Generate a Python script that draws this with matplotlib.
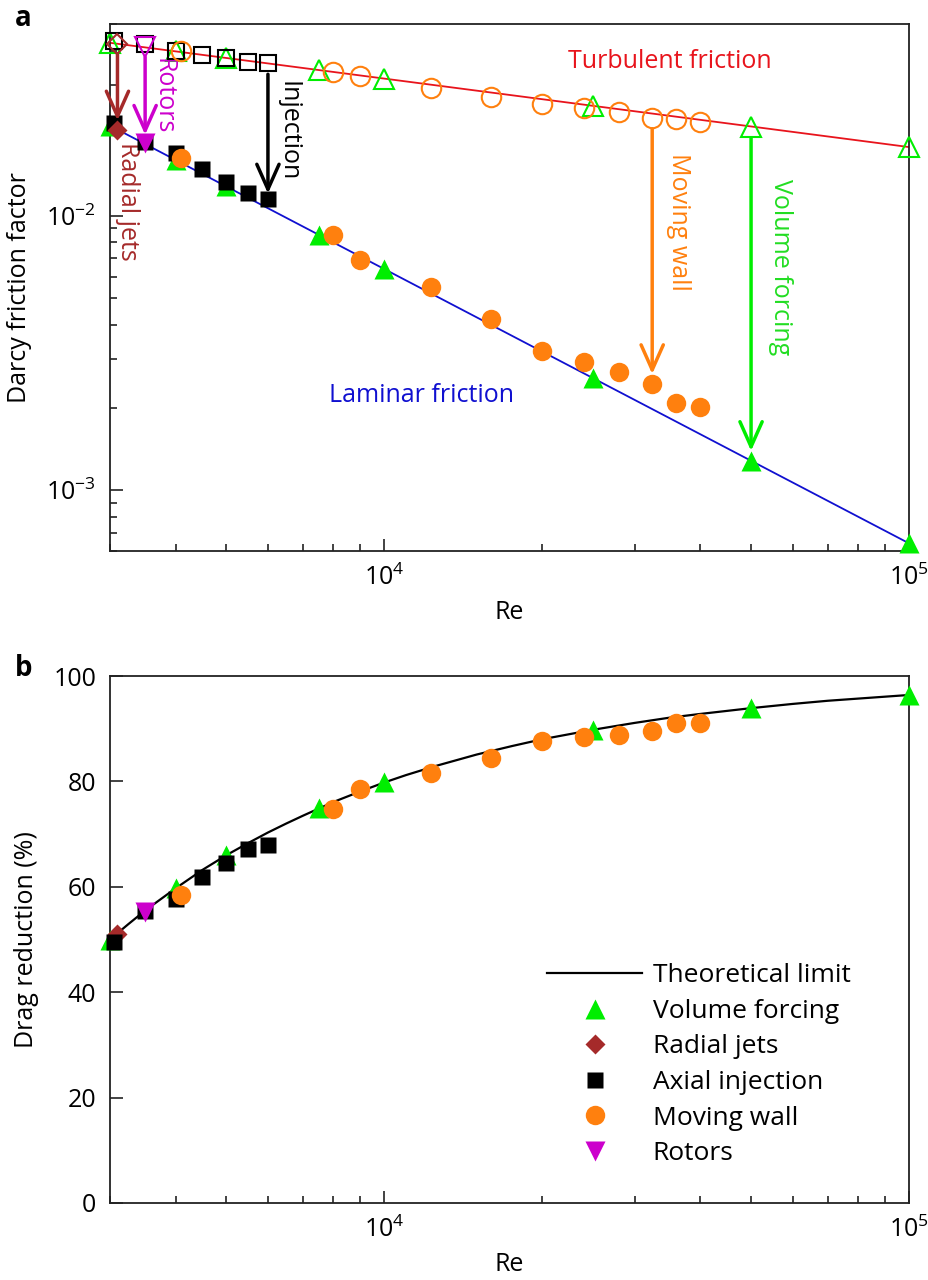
import matplotlib
matplotlib.use('Agg')
import matplotlib.pyplot as plt
from matplotlib.ticker import LogLocator, NullFormatter, FixedLocator, FixedFormatter

plt.rcParams['font.family'] = ['Open Sans', 'DejaVu Sans']
plt.rcParams['mathtext.default'] = 'regular'

# ---- data ----
# reference lines (end points on the log-log plot)
line_re = [3000, 100000]
turb_line = [0.0427, 0.0178]
lam_line = [0.0213, 0.00064]

# theoretical limit of drag reduction
lim_re = [3000, 3250, 3500, 4000, 4500, 5000, 5500, 6000, 6500, 7000, 8000, 9000,
          10000, 11000, 12500, 15000, 17500, 20000, 25000, 30000, 35000, 40000,
          50000, 60000, 70000, 85000, 100000]
lim_dr = [50.0, 52.9, 55.5, 59.7, 63.2, 66.0, 68.3, 70.3, 72.0, 73.5, 76.1, 78.1,
          79.8, 81.2, 82.9, 85.1, 86.7, 88.0, 89.8, 91.1, 92.1, 92.8,
          93.9, 94.7, 95.3, 95.9, 96.4]

# volume forcing
vf_re = [3000, 4000, 5000, 7500, 10000, 25000, 50000, 100000]
vf_turb = [0.0427, 0.0397, 0.0376, 0.0339, 0.0316, 0.0251, 0.0211, 0.0178]
vf_lam = [0.0213, 0.0160, 0.0128, 0.00853, 0.0064, 0.00256, 0.00128, 0.00064]
vf_dr = [50.0, 59.7, 66.0, 74.9, 79.8, 89.8, 93.9, 96.4]

# radial jets
rj_re = [3100]
rj_turb = [0.0422]
rj_lam = [0.0205]
rj_dr = [51.0]

# axial injection
ai_re = [3050, 3500, 4000, 4500, 5000, 5500, 6000]
ai_turb = [0.0432, 0.0421, 0.0397, 0.0384, 0.0377, 0.0364, 0.0360]
ai_lam = [0.0218, 0.0185, 0.0170, 0.0148, 0.0133, 0.0121, 0.0115]
ai_dr = [49.5, 55.4, 57.7, 61.9, 64.6, 67.2, 68.0]

# moving wall
mw_re = [4100, 8000, 9000, 12250, 16000, 20000, 24000, 28000, 32400, 36000, 40000]
mw_turb = [0.0397, 0.0333, 0.0322, 0.0293, 0.0272, 0.0256, 0.0248, 0.0238, 0.0228, 0.0226, 0.0220]
mw_lam = [0.01628, 0.00852, 0.00691, 0.00551, 0.00421, 0.00322, 0.00293, 0.00270, 0.00244, 0.00208, 0.00201]
mw_dr = [58.5, 74.7, 78.5, 81.5, 84.4, 87.6, 88.4, 88.8, 89.5, 91.0, 91.0]

# rotors
ro_re = [3500]
ro_turb = [0.0411]
ro_lam = [0.0184]
ro_dr = [55.3]

c_green = '#00ee00'
c_brown = '#a52a2a'
c_black = '#000000'
c_orange = '#ff800e'
c_mag = '#cc00cc'

fig = plt.figure(figsize=(9.29, 12.8), dpi=100)
W, H = 929.0, 1280.0
ax1 = fig.add_axes([110 / W, 1 - 551 / H, 799 / W, 527 / H])
ax2 = fig.add_axes([110 / W, 1 - 1203 / H, 799 / W, 527 / H])

# ---------------- panel a ----------------
ax1.plot(line_re, turb_line, color='#e8141c', lw=1.3, zorder=2)
ax1.plot(line_re, lam_line, color='#1010d0', lw=1.3, zorder=2)

series = [
    (vf_re, vf_turb, vf_lam, '^', c_green, 15, 3),
    (ai_re, ai_turb, ai_lam, 's', c_black, 11.5, 4),
    (rj_re, rj_turb, rj_lam, 'D', c_brown, 10, 5),
    (ro_re, ro_turb, ro_lam, 'v', c_mag, 14, 5),
    (mw_re, mw_turb, mw_lam, 'o', c_orange, 14, 6),
]
for re, ft, fl, mk, col, ms, z in series:
    ax1.plot(re, ft, mk, ms=ms, mfc='none', mec=col, mew=1.5, ls='none',
             clip_on=False, zorder=z)
    ax1.plot(re, fl, mk, ms=ms, mfc=col, mec='none', ls='none',
             clip_on=False, zorder=z)

# arrows from turbulent to laminar state
arrows = [
    (rj_re, rj_turb, rj_lam, 0, c_brown, 7, 7),
    (ro_re, ro_turb, ro_lam, 0, c_mag, 7, 6),
    (ai_re, ai_turb, ai_lam, 6, c_black, 8, 4),
    (mw_re, mw_turb, mw_lam, 8, c_orange, 8, 7),
    (vf_re, vf_turb, vf_lam, 6, c_green, 8, 7),
]
for re, ft, fl, i, col, sa, sb in arrows:
    ax1.annotate('', xy=(re[i], fl[i]), xytext=(re[i], ft[i]),
                 arrowprops=dict(arrowstyle='->,head_length=0.9,head_width=0.4',
                                 lw=2.5, color=col, shrinkA=sa, shrinkB=sb,
                                 mutation_scale=20),
                 zorder=7)

fs = 18
ax1.text(3240, 0.0113, 'Radial jets', color=c_brown, fontsize=fs, rotation=270,
         ha='center', va='center')
ax1.text(3780, 0.0272, 'Rotors', color=c_mag, fontsize=fs, rotation=270,
         ha='center', va='center')
ax1.text(6560, 0.0203, 'Injection', color=c_black, fontsize=fs, rotation=270,
         ha='center', va='center')
ax1.text(36300, 0.0095, 'Moving wall', color=c_orange, fontsize=fs, rotation=270,
         ha='center', va='center')
ax1.text(56800, 0.0065, 'Volume forcing', color='#22dd22', fontsize=fs, rotation=270,
         ha='center', va='center')
ax1.text(35000, 0.0365, 'Turbulent friction', color='#e8141c', fontsize=fs,
         ha='center', va='center')
ax1.text(11760, 0.00222, 'Laminar friction', color='#1010d0', fontsize=fs,
         ha='center', va='center')

ax1.set_xscale('log')
ax1.set_yscale('log')
ax1.set_xlim(3000, 100000)
ax1.set_ylim(6e-4, 0.05)
ax1.set_xlabel('Re', fontsize=fs, labelpad=6)
ax1.set_ylabel('Darcy friction factor', fontsize=fs, labelpad=10)
ax1.yaxis.set_major_locator(FixedLocator([1e-3, 1e-2]))
ax1.yaxis.set_major_formatter(FixedFormatter(['$10^{-3}$', '$10^{-2}$']))
ax1.yaxis.set_minor_locator(LogLocator(base=10, subs=range(2, 10)))
ax1.yaxis.set_minor_formatter(NullFormatter())

# ---------------- panel b ----------------
ax2.plot(lim_re, lim_dr, color='black', lw=1.6, zorder=2, label='Theoretical limit')
ax2.plot(vf_re, vf_dr, '^', ms=15, color=c_green, mec='none', ls='none',
         clip_on=False, zorder=3, label='Volume forcing')
ax2.plot(rj_re, rj_dr, 'D', ms=10, color=c_brown, mec='none', ls='none',
         clip_on=False, zorder=4, label='Radial jets')
ax2.plot(ai_re, ai_dr, 's', ms=11.5, color=c_black, mec='none', ls='none',
         clip_on=False, zorder=5, label='Axial injection')
ax2.plot(mw_re, mw_dr, 'o', ms=14, color=c_orange, mec='none', ls='none',
         clip_on=False, zorder=6, label='Moving wall')
ax2.plot(ro_re, ro_dr, 'v', ms=14, color=c_mag, mec='none', ls='none',
         clip_on=False, zorder=6, label='Rotors')

ax2.set_xscale('log')
ax2.set_xlim(3000, 100000)
ax2.set_ylim(0, 100)
ax2.set_yticks([0, 20, 40, 60, 80, 100])
ax2.set_xlabel('Re', fontsize=fs, labelpad=6)
ax2.set_ylabel('Drag reduction (%)', fontsize=fs, labelpad=10)
leg = ax2.legend(loc='lower left', bbox_to_anchor=(0.547, 0.07), frameon=False,
                 fontsize=19, handlelength=3.6, borderpad=0, labelspacing=0.4,
                 handletextpad=0.4, borderaxespad=0)

for ax in (ax1, ax2):
    ax.xaxis.set_major_locator(FixedLocator([1e4, 1e5]))
    ax.xaxis.set_major_formatter(FixedFormatter(['$10^{4}$', '$10^{5}$']))
    ax.xaxis.set_minor_locator(LogLocator(base=10, subs=range(2, 10)))
    ax.xaxis.set_minor_formatter(NullFormatter())
    ax.tick_params(which='both', direction='in', labelsize=fs, width=1.2,
                   color='#222222', top=False, right=False)
    ax.tick_params(which='major', length=9, pad=10)
    ax.tick_params(which='minor', length=5)
    for s in ax.spines.values():
        s.set_linewidth(1.3)
        s.set_color('#222222')

fig.text(15 / W, 1 - 18 / H, 'a', fontsize=20, fontweight='bold', ha='left', va='center')
fig.text(15 / W, 1 - 668 / H, 'b', fontsize=20, fontweight='bold', ha='left', va='center')

fig.savefig('out.png', dpi=100)
